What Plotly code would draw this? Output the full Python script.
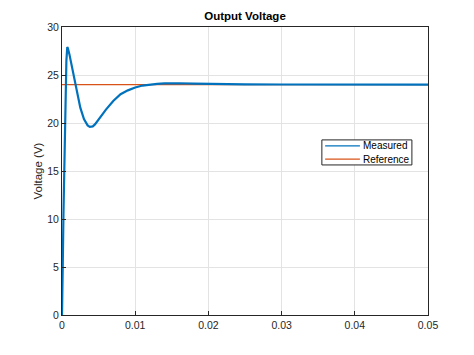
import plotly.graph_objects as go

# Measured output voltage (s, V)
t_meas = [0.0, 0.00005, 0.0001, 0.0002, 0.0003, 0.0004, 0.0005, 0.0006, 0.00072, 0.0008,
          0.001, 0.0015, 0.002, 0.0025, 0.003, 0.0035, 0.0038, 0.0042, 0.0045, 0.005,
          0.006, 0.007, 0.008, 0.009, 0.010, 0.011, 0.012, 0.013, 0.014, 0.015,
          0.016, 0.018, 0.020, 0.025, 0.030, 0.035, 0.040, 0.045, 0.050]
v_meas = [0.0, 1.5, 5.0, 10.5, 15.5, 20.0, 23.5, 26.5, 27.9, 27.8,
          27.2, 25.4, 23.3, 21.6, 20.4, 19.75, 19.6, 19.65, 19.85, 20.4,
          21.4, 22.3, 23.0, 23.4, 23.7, 23.9, 24.0, 24.08, 24.12, 24.15,
          24.14, 24.1, 24.06, 24.03, 24.01, 24.0, 24.0, 24.0, 24.0]

t_ref = [0.0, 0.05]
v_ref = [24.0, 24.0]

series_names = ["Measured", "Reference"]
series_colors = ["#0072BD", "#D95319"]

x_ticks = [0, 0.01, 0.02, 0.03, 0.04, 0.05]
x_labels = ["0", "0.01", "0.02", "0.03", "0.04", "0.05"]
y_ticks = [0, 5, 10, 15, 20, 25, 30]

fig = go.Figure()
# reference drawn first so the measured trace sits on top
fig.add_trace(go.Scatter(x=t_ref, y=v_ref, mode="lines", name=series_names[1],
                         line=dict(color=series_colors[1], width=1.1), showlegend=False))
fig.add_trace(go.Scatter(x=t_meas, y=v_meas, mode="lines", name=series_names[0],
                         line=dict(color=series_colors[0], width=2.2), showlegend=False))

axis_common = dict(showgrid=True, gridcolor="#E3E3E3", gridwidth=1,
                   showline=True, linecolor="#262626", linewidth=1, mirror=True,
                   ticks="inside", ticklen=4, tickcolor="#262626",
                   zeroline=False, tickfont=dict(size=10.5, color="#262626"))

# Compact MATLAB-style legend box (paper coordinates)
leg_x0, leg_x1, leg_y0, leg_y1 = 0.710, 0.956, 0.521, 0.608
row_y = [0.587, 0.541]
line_x0, line_x1, text_x = 0.719, 0.814, 0.818

shapes = [dict(type="rect", xref="paper", yref="paper", x0=leg_x0, x1=leg_x1,
               y0=leg_y0, y1=leg_y1, line=dict(color="#262626", width=1),
               fillcolor="white", layer="above")]
annotations = []
for name, color, yy in zip(series_names, series_colors, row_y):
    shapes.append(dict(type="line", xref="paper", yref="paper", x0=line_x0, x1=line_x1,
                       y0=yy, y1=yy, line=dict(color=color, width=1.3), layer="above"))
    annotations.append(dict(text=name, xref="paper", yref="paper", x=text_x, y=yy,
                            xanchor="left", yanchor="middle", showarrow=False,
                            font=dict(size=10, color="#000000")))

fig.update_layout(
    width=474, height=355,
    margin=dict(l=54, r=54, t=19, b=48),
    paper_bgcolor="white", plot_bgcolor="white",
    font=dict(family="Liberation Sans, Arial, sans-serif", color="#262626"),
    title=dict(text="<b>Output Voltage</b>", x=0.5, xref="paper", yref="container",
               y=0.977, yanchor="middle",
               font=dict(size=11.5, color="#000000")),
    xaxis=dict(range=[0, 0.05], tickvals=x_ticks, ticktext=x_labels, **axis_common),
    yaxis=dict(range=[0, 30], tickvals=y_ticks, title=dict(text="Voltage (V)", standoff=2,
               font=dict(size=11.5, color="#262626")), **axis_common),
    shapes=shapes,
    annotations=annotations,
    showlegend=False,
)

fig.write_html("out.html")
